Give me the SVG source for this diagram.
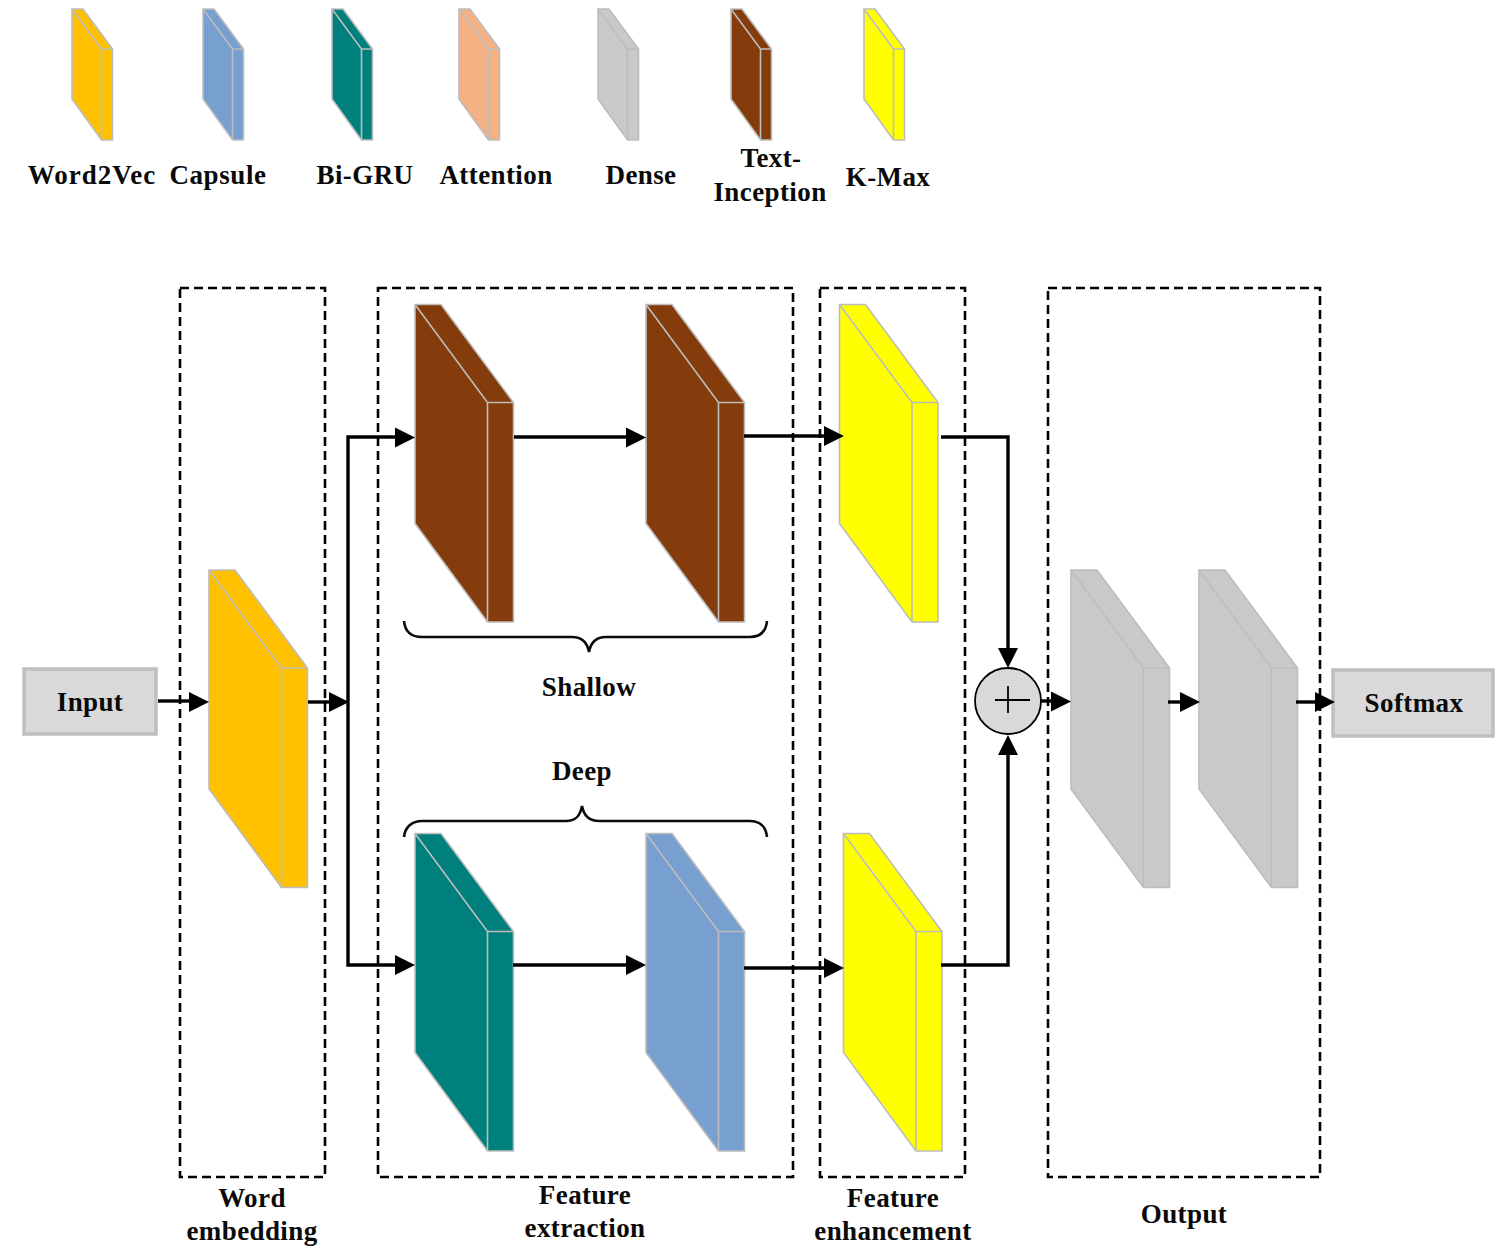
<svg xmlns="http://www.w3.org/2000/svg" xmlns:xlink="http://www.w3.org/1999/xlink" width="1498" height="1257" viewBox="0 0 1498 1257">
<style>
text{font-family:"Liberation Serif","Times New Roman",serif;font-weight:bold;font-size:27px;fill:#0a0a0a;text-anchor:middle;letter-spacing:.4px}
.b{fill:currentColor;stroke:#bdbdbd;stroke-width:1.6;stroke-linejoin:miter}
.dash{fill:none;stroke:#000;stroke-width:2.6;stroke-dasharray:9 5}
.line{fill:none;stroke:#000;stroke-width:3.4}
.brace{fill:none;stroke:#0a0a0a;stroke-width:2.6}
.head{fill:#000}
.box{fill:#d9d9d9;stroke:#bfbfbf;stroke-width:3.5}
</style>
<defs>
<g id="large">
<path class="b" d="M0 0H26L98.500 98V317.500H72.500L0 219Z"/>
<path class="b" style="fill:none" d="M0 0L72.500 98V317.500M72.500 98H98.500"/>
</g>
<g id="small">
<path class="b" d="M0 0H11L40.500 40V131H29.500L0 90Z"/>
<path class="b" style="fill:none" d="M0 0L29.500 40V131M29.500 40H40.500"/>
</g>
<path id="ar" class="head" d="M-20 -10L0 0L-20 10Z"/>
</defs>

<g id="legend-word2vec" color="#ffc000"><use xlink:href="#small" href="#small" x="72" y="9"/><text x="92" y="184" style="letter-spacing:1px">Word2Vec</text></g>
<g id="legend-capsule" color="#779fcf"><use xlink:href="#small" href="#small" x="203" y="9"/><text x="218" y="184" style="letter-spacing:.6px">Capsule</text></g>
<g id="legend-bigru" color="#00807c"><use xlink:href="#small" href="#small" x="332" y="9"/><text x="365" y="184">Bi-GRU</text></g>
<g id="legend-attention" color="#f4b183"><use xlink:href="#small" href="#small" x="459" y="9"/><text x="496" y="184">Attention</text></g>
<g id="legend-dense" color="#c9c9c9"><use xlink:href="#small" href="#small" x="598" y="9"/><text x="641" y="184">Dense</text></g>
<g id="legend-textinception" color="#843c0c"><use xlink:href="#small" href="#small" x="731" y="9"/><text x="771" y="167">Text-</text><text x="770" y="201">Inception</text></g>
<g id="legend-kmax" color="#ffff00"><use xlink:href="#small" href="#small" x="864" y="9"/><text x="888" y="186">K-Max</text></g>

<g id="group-word-embedding"><rect class="dash" x="180" y="288" width="145" height="889"/><text x="252" y="1207">Word</text><text x="252" y="1240">embedding</text></g>
<g id="group-feature-extraction"><rect class="dash" x="378" y="288" width="415" height="889"/><text x="585" y="1204">Feature</text><text x="585" y="1237">extraction</text></g>
<g id="group-feature-enhancement"><rect class="dash" x="820" y="288" width="145" height="889"/><text x="893" y="1207">Feature</text><text x="893" y="1240">enhancement</text></g>
<g id="group-output"><rect class="dash" x="1048" y="288" width="272" height="889"/><text x="1184" y="1223">Output</text></g>

<g id="node-input"><rect class="box" x="24" y="669" width="132" height="65"/><text x="90" y="711">Input</text></g>
<g id="node-softmax"><rect class="box" x="1333" y="670" width="160" height="66"/><text x="1414" y="712">Softmax</text></g>
<g id="node-word2vec" color="#ffc000"><use xlink:href="#large" href="#large" x="209" y="570"/></g>
<g id="node-inception1" color="#843c0c"><use xlink:href="#large" href="#large" x="415" y="304.500"/></g>
<g id="node-inception2" color="#843c0c"><use xlink:href="#large" href="#large" x="646" y="304.500"/></g>
<g id="node-bigru" color="#00807c"><use xlink:href="#large" href="#large" x="415" y="833.500"/></g>
<g id="node-capsule" color="#779fcf"><use xlink:href="#large" href="#large" x="646" y="833.500"/></g>
<g id="node-kmax1" color="#ffff00"><use xlink:href="#large" href="#large" x="839.500" y="304.500"/></g>
<g id="node-kmax2" color="#ffff00"><use xlink:href="#large" href="#large" x="843.500" y="833.500"/></g>
<g id="node-dense1" color="#c9c9c9"><use xlink:href="#large" href="#large" x="1071" y="570"/></g>
<g id="node-dense2" color="#c9c9c9"><use xlink:href="#large" href="#large" x="1199" y="570"/></g>
<g id="node-add"><circle cx="1008" cy="701" r="33" fill="#d9d9d9" stroke="#000" stroke-width="1.8"/><path d="M991 700H1026M1004 686V713" transform="translate(4 0)" fill="none" stroke="#000" stroke-width="1.8"/></g>

<g id="braces">
<path class="brace" d="M404 621C405 632 412 637 422 637H572C581 637 587 641 589 652C591 641 597 637 606 637H750C760 637 766 632 767 621"/>
<text x="589" y="696">Shallow</text>
<path class="brace" d="M404 837C405 827 412 821 422 821H566C575 821 580 817 582 806C584 817 590 821 599 821H750C760 821 766 827 767 837"/>
<text x="582" y="780">Deep</text>
</g>

<g id="connectors">
<path class="line" d="M158 701H190"/><use xlink:href="#ar" href="#ar" x="209" y="702"/>
<path class="line" d="M308 702H330"/><use xlink:href="#ar" href="#ar" x="349" y="702"/>
<path class="line" d="M396 437H348V965H396"/><use xlink:href="#ar" href="#ar" x="415" y="437.500"/><use xlink:href="#ar" href="#ar" x="415" y="965"/>
<path class="line" d="M514 437H627"/><use xlink:href="#ar" href="#ar" x="646" y="437.500"/>
<path class="line" d="M513 965H627"/><use xlink:href="#ar" href="#ar" x="646" y="965"/>
<path class="line" d="M744 436H825"/><use xlink:href="#ar" href="#ar" x="844" y="436"/>
<path class="line" d="M744 968H825"/><use xlink:href="#ar" href="#ar" x="844" y="968"/>
<path class="line" d="M941 437H1008V650"/><use xlink:href="#ar" href="#ar" transform="translate(1008 668) rotate(90)"/>
<path class="line" d="M941 965H1008V752"/><use xlink:href="#ar" href="#ar" transform="translate(1008 735) rotate(-90)"/>
<path class="line" d="M1041 701H1052"/><use xlink:href="#ar" href="#ar" x="1071" y="701.500"/>
<path class="line" d="M1168 702H1180"/><use xlink:href="#ar" href="#ar" x="1200" y="702"/>
<path class="line" d="M1296 702H1316"/><use xlink:href="#ar" href="#ar" x="1335" y="702"/>
</g>
</svg>
